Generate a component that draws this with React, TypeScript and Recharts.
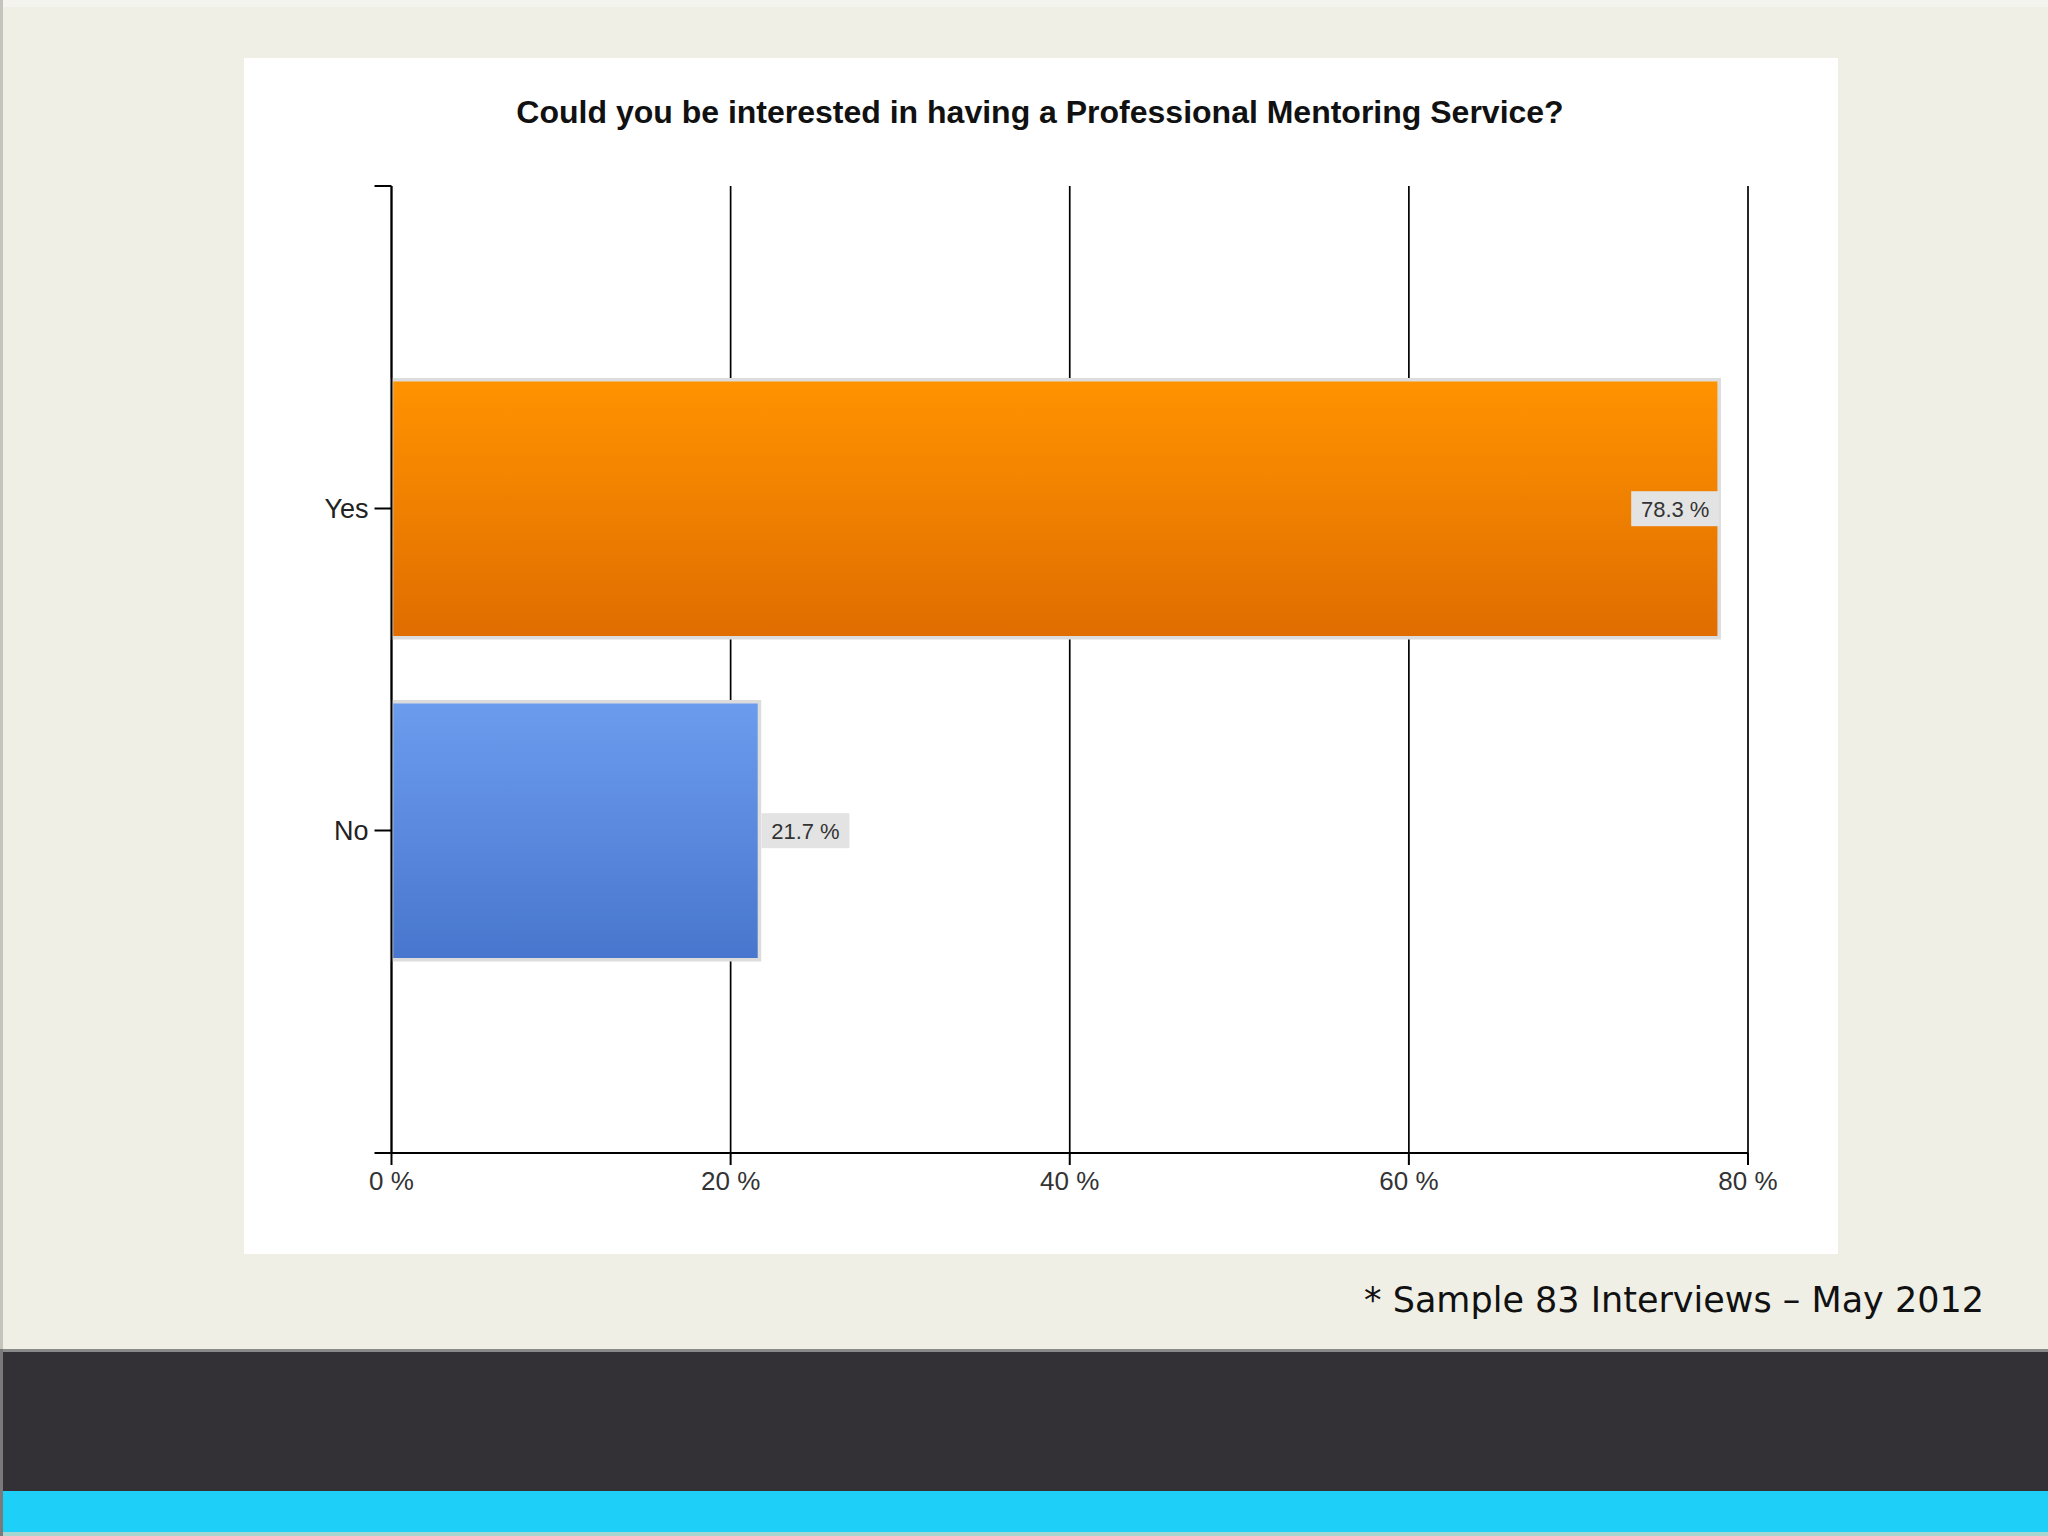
import React from 'react';
import * as R from 'recharts';

const { BarChart, Bar, XAxis, YAxis, CartesianGrid, Cell, LabelList } = R as any;

// ---- data ----
const categories = ['Yes', 'No'];
const percentValues = [78.3, 21.7];
const xTicks = [0, 20, 40, 60, 80];
const barTopColors = ['#ff9300', '#6c9cee'];
const barBottomColors = ['#df6d00', '#4876ce'];
const chartTitle = 'Could you be interested in having a Professional Mentoring Service?';
const footnote = '* Sample 83 Interviews \u2013 May 2012';

const data = categories.map((name, i) => ({ name, value: percentValues[i] }));

const CHART_W = 1594;
const CHART_H = 1196;
const FONT = '"Liberation Sans", Arial, sans-serif';

function AxisEndTicks() {
  const useOffset = (R as any).useOffset;
  const off = useOffset ? useOffset() : null;
  if (!off) return null;
  const x0 = off.left;
  const yTop = off.top;
  const yBot = CHART_H - off.bottom;
  return (
    <g>
      <line x1={x0 - 17} x2={x0} y1={yTop} y2={yTop} stroke="#000" strokeWidth={2} />
      <line x1={x0 - 17} x2={x0} y1={yBot} y2={yBot} stroke="#000" strokeWidth={2} />
    </g>
  );
}

const renderLabel = (props: any) => {
  const { x, y, width, height, value } = props;
  const end = Number(x) + Number(width);
  const boxW = 88;
  const boxH = 35;
  const inside = Number(value) >= 50;
  const bx = inside ? end - boxW : end + 2;
  const cy = Number(y) + Number(height) / 2;
  return (
    <g>
      <rect x={bx} y={cy - boxH / 2} width={boxW} height={boxH} fill="#e3e3e3" />
      <text
        x={bx + boxW / 2}
        y={cy}
        dy="0.36em"
        textAnchor="middle"
        fontSize={22}
        fill="#333"
        fontFamily={FONT}
      >
        {`${value} %`}
      </text>
    </g>
  );
};

export default function App() {
  return (
    <div style={{ position: 'absolute', left: 0, top: 0, width: 2048, height: 1536, overflow: 'hidden' }}>
      <svg width={2048} height={1536} style={{ position: 'absolute', left: 0, top: 0 }}>
        <rect x={0} y={0} width={2048} height={1349} fill="#efefe6" />
        <rect x={0} y={0} width={2048} height={7} fill="#f4f4ef" />
        <rect x={0} y={0} width={3} height={1536} fill="#c4c4bc" />
        <rect x={244} y={58} width={1594} height={1196} fill="#ffffff" />
        <text
          x={1040}
          y={123}
          textAnchor="middle"
          fontSize={32}
          fontWeight="bold"
          fill="#111"
          fontFamily={FONT}
        >
          {chartTitle}
        </text>
        <text
          x={1984}
          y={1312}
          textAnchor="end"
          fontSize={35}
          fill="#111"
          fontFamily='"DejaVu Sans", Verdana, sans-serif'
        >
          {footnote}
        </text>
        <rect x={0} y={1349} width={2048} height={143} fill="#333036" />
        <rect x={0} y={1349} width={2048} height={3} fill="#8a8a8a" />
        <rect x={0} y={1491} width={2048} height={45} fill="#1ed0f8" />
        <rect x={0} y={1532} width={2048} height={4} fill="#a6d6cf" />
        <rect x={0} y={1349} width={3} height={187} fill="#7a7a7a" />
      </svg>
      <div style={{ position: 'absolute', left: 244, top: 58, width: CHART_W, height: CHART_H }}>
        <BarChart
          width={CHART_W}
          height={CHART_H}
          data={data}
          layout="vertical"
          margin={{ top: 128, right: 90, bottom: 41, left: 27.5 }}
          barCategoryGap="10%"
        >
          <defs>
            {categories.map((c, i) => (
              <linearGradient key={c} id={`grad-${i}`} x1="0" y1="0" x2="0" y2="1">
                <stop offset="0%" stopColor={barTopColors[i]} />
                <stop offset="100%" stopColor={barBottomColors[i]} />
              </linearGradient>
            ))}
          </defs>
          <CartesianGrid horizontal={false} vertical stroke="#000" strokeWidth={1.7} />
          <XAxis
            type="number"
            domain={[0, 80]}
            ticks={xTicks}
            tickFormatter={(v: number) => `${v} %`}
            height={60}
            axisLine={{ stroke: '#000', strokeWidth: 2 }}
            tickLine={{ stroke: '#000', strokeWidth: 2 }}
            tickSize={12}
            tickMargin={7}
            tick={{ fontSize: 26, fill: '#333', fontFamily: FONT }}
            interval={0}
          />
          <YAxis
            type="category"
            dataKey="name"
            width={120}
            padding={{ top: 161.5, bottom: 161.5 }}
            axisLine={{ stroke: '#000', strokeWidth: 2 }}
            tickLine={{ stroke: '#000', strokeWidth: 2 }}
            tickSize={17}
            tickMargin={6}
            tick={{ fontSize: 27, fill: '#222', fontFamily: FONT }}
            interval={0}
          />
          <Bar dataKey="value" isAnimationActive={false} stroke="#dcdcdc" strokeWidth={3.5}>
            {data.map((d, i) => (
              <Cell key={d.name} fill={`url(#grad-${i})`} />
            ))}
            <LabelList dataKey="value" content={renderLabel} />
          </Bar>
          <AxisEndTicks />
        </BarChart>
      </div>
    </div>
  );
}
